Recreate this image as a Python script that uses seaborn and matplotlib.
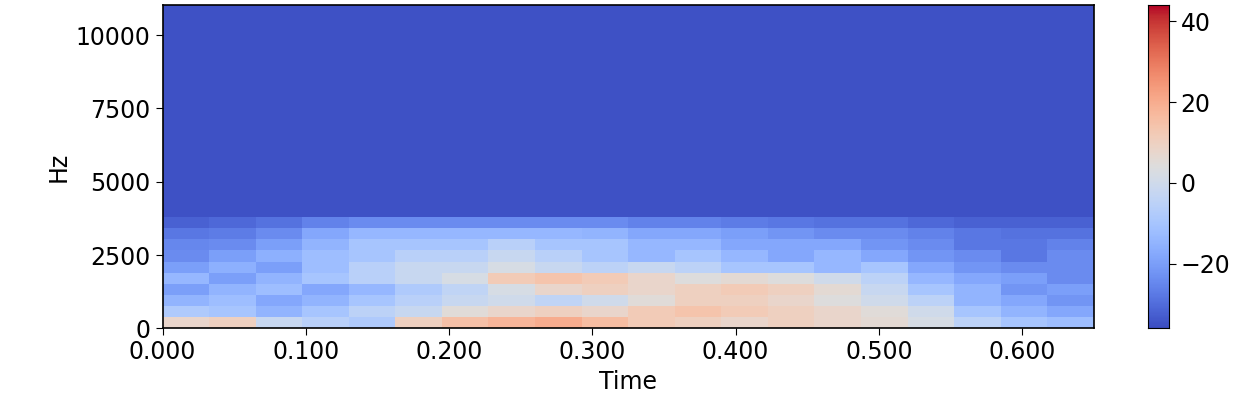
import numpy as np
import matplotlib
matplotlib.use("Agg")
import matplotlib.pyplot as plt
import seaborn as sns

# dB values, rows from low frequency upward (each row ~380 Hz), 20 frames of ~0.0325 s
r0 = [8, 10, -2, -6, -8, 10, 15, 18, 20, 16, 12, 10, 8, 10, 8, 6, 2, -5, -10, -12]
r1 = [-8, -10, -15, -10, -5, -2, 5, 8, 10, 8, 12, 14, 12, 10, 8, 5, 0, -10, -15, -18]
r2 = [-15, -12, -18, -15, -10, -6, -2, 0, -4, 0, 5, 10, 10, 8, 4, 0, -5, -15, -18, -22]
r3 = [-20, -15, -12, -18, -14, -8, -4, 2, 8, 10, 8, 10, 12, 10, 6, -2, -10, -15, -22, -20]
r4 = [-14, -20, -15, -10, -6, -2, 2, 12, 14, 12, 8, 4, 6, 4, 0, -5, -14, -18, -20, -24]
r5 = [-20, -16, -20, -12, -6, -2, -2, 2, -2, -5, -2, -5, -10, -10, -14, -10, -18, -22, -24, -24]
r6 = [-24, -20, -16, -12, -10, -6, -6, -2, -6, -10, -14, -10, -14, -18, -14, -18, -22, -24, -28, -24]
r7 = [-25, -24, -20, -15, -10, -10, -10, -6, -10, -10, -14, -14, -18, -18, -18, -22, -24, -28, -28, -26]
r8 = [-28, -27, -24, -18, -14, -14, -14, -14, -14, -15, -18, -18, -20, -22, -24, -24, -26, -28, -29, -29]
r9 = [-32, -31, -29, -26, -24, -24, -24, -24, -24, -24, -26, -26, -27, -28, -29, -29, -31, -32, -32, -32]
top_level = -35
n_top_rows = 19

x_ticks = [0.0, 0.1, 0.2, 0.3, 0.4, 0.5, 0.6]
y_ticks = [0, 2500, 5000, 7500, 10000]
cbar_ticks = [-20, 0, 20, 40]
duration = 0.65
fmax = 11025
vmin, vmax = -36, 44

low = np.array([r0, r1, r2, r3, r4, r5, r6, r7, r8, r9], dtype=float)
nframes = low.shape[1]
data = np.vstack([low, np.full((n_top_rows, nframes), top_level)])
nrows = data.shape[0]

fig = plt.figure(figsize=(12.5, 4.2), dpi=100)
ax = fig.add_axes([0.13, 0.218, 0.745, 0.77])
cax = fig.add_axes([0.918, 0.218, 0.017, 0.77])
sns.heatmap(data, ax=ax, cbar_ax=cax, cmap="coolwarm", vmin=vmin, vmax=vmax,
            xticklabels=False, yticklabels=False, cbar_kws={"ticks": cbar_ticks})
ax.invert_yaxis()
fs = 17
ax.set_xticks([t / duration * nframes for t in x_ticks])
ax.set_xticklabels([f"{t:.3f}" for t in x_ticks], fontsize=fs, rotation=0)
ax.set_yticks([h / fmax * nrows for h in y_ticks])
ax.set_yticklabels([str(h) for h in y_ticks], fontsize=fs, rotation=0)
ax.tick_params(length=5, color="black")
for s in ax.spines.values():
    s.set_visible(True); s.set_color("black"); s.set_linewidth(1.2)
ax.set_xlabel("Time", fontsize=fs)
ax.set_ylabel("Hz", fontsize=fs)
cax.tick_params(labelsize=fs, length=5)
cax.set_yticklabels(["\u221220", "0", "20", "40"])
for s in cax.spines.values():
    s.set_visible(True); s.set_color("black")
fig.savefig("out.png", dpi=100)
